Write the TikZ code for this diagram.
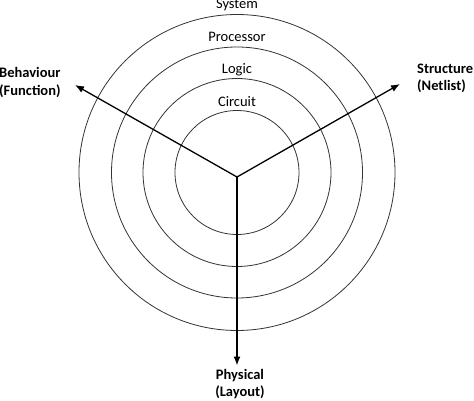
\documentclass[tikz,border=0pt]{standalone}
\usepackage{fontspec}
\setmainfont{Carlito}
\usetikzlibrary{arrows.meta}
\begin{document}
\begin{tikzpicture}[x=1pt,y=-1pt,
  ring/.style={draw=black!80,line width=0.8pt},
  axis/.style={draw=black,line width=1.3pt,-{Latex[length=9pt,width=7pt]}},
  lvl/.style={font=\fontsize{14.5}{17}\selectfont,inner sep=0pt,anchor=base},
  dom/.style={font=\fontsize{14.5}{17}\selectfont\bfseries,inner sep=0pt}]
\useasboundingbox (0,0) rectangle (474,401);
\coordinate (c) at (237,172.5);
\coordinate (o) at (237,177);
\draw[ring] (c) circle (62);
\draw[ring] (c) circle (94);
\draw[ring] (c) circle (125.5);
\draw[ring] (c) circle (158);
\coordinate (bt) at (75,85);
\coordinate (st) at (400,84);
\coordinate (pt) at (237,365.5);
\draw[axis] (o) -- (bt);
\draw[axis] (o) -- (st);
\draw[axis] (o) -- (pt);
\node[lvl] (sys) at (237,9) {System};
\node[lvl] (pro) at (237,42) {Processor};
\node[lvl] (log) at (237,74) {Logic};
\node[lvl] (cir) at (237,107) {Circuit};
\node[dom,anchor=base west] (b1) at (-1,78) {Behaviour};
\node[dom,anchor=base west] (b2) at (-1,96) {(Function)};
\node[dom,anchor=base west] (s1) at (417,74) {Structure};
\node[dom,anchor=base west] (s2) at (417,91) {(Netlist)};
\node[dom,anchor=base] (p1) at (240,379.5) {Physical};
\node[dom,anchor=base] (p2) at (240,396) {(Layout)};
\end{tikzpicture}
\end{document}
